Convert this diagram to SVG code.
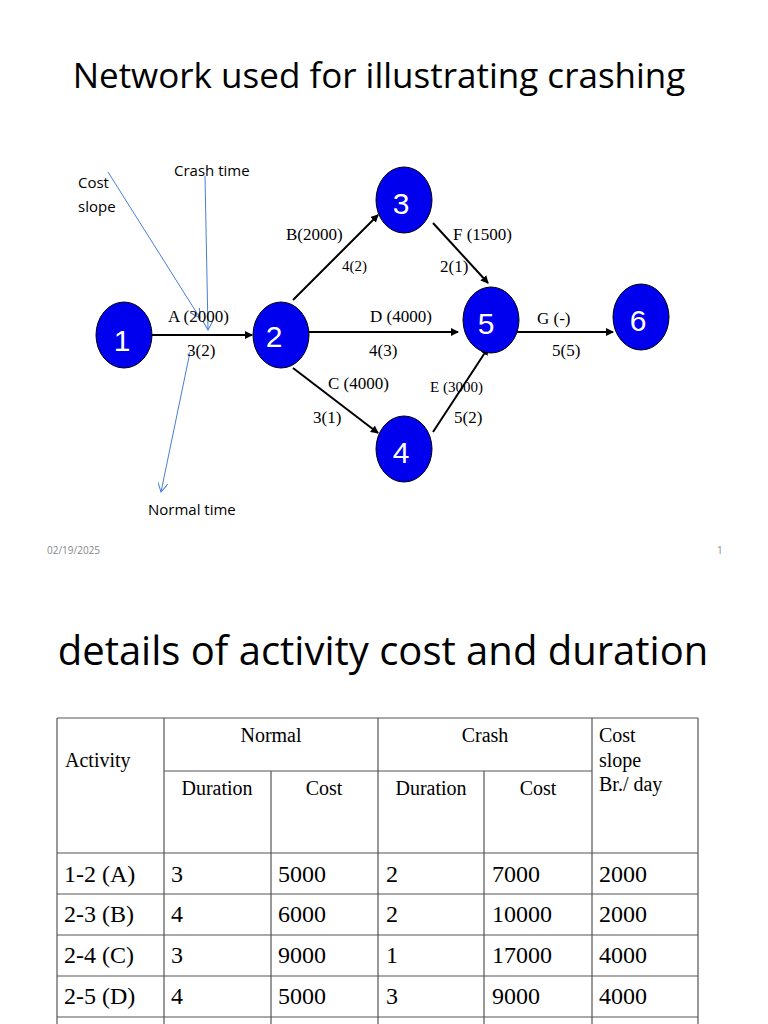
<svg xmlns="http://www.w3.org/2000/svg" width="768" height="1024" viewBox="0 0 768 1024">
<style>
.t{font-family:"Liberation Serif",serif;fill:#000}
.s{font-family:"Open Sans","Liberation Sans",sans-serif;fill:#000}
.n ellipse{fill:#0000ee;stroke:#000;stroke-width:1}
.n text{font-family:"Liberation Sans",sans-serif;font-size:30px;fill:#fff;text-anchor:middle}
.e{stroke:#000;stroke-width:2;marker-end:url(#a)}
.b{stroke:#4a7ed6;stroke-width:1;marker-end:url(#b)}
.g line{stroke:#555;stroke-width:1.2}
</style>
<defs>
<marker id="a" markerWidth="8" markerHeight="8" refX="7" refY="4" orient="auto" markerUnits="userSpaceOnUse"><path d="M0,0L8,4L0,8z" fill="#000"/></marker>
<marker id="b" markerWidth="10" markerHeight="10" refX="9" refY="5" orient="auto" markerUnits="userSpaceOnUse"><path d="M0,0L9,5L0,10" fill="none" stroke="#4a7ed6"/></marker>
</defs>
<rect width="768" height="1024" fill="#fff"/>
<text class="s" x="379" y="88" font-size="35" text-anchor="middle">Network used for illustrating crashing</text>
<g id="connectors">
<line class="e" x1="152" y1="335" x2="252" y2="335"/>
<line class="e" x1="293" y1="300" x2="378" y2="215"/>
<line class="e" x1="309" y1="332" x2="458" y2="332"/>
<line class="e" x1="293" y1="368" x2="378" y2="433"/>
<line class="e" x1="433" y1="223" x2="488" y2="283"/>
<line class="e" x1="433" y1="432" x2="488" y2="348"/>
<line class="e" x1="516" y1="332" x2="613" y2="332"/>
<line class="b" x1="108" y1="172" x2="200" y2="318"/>
<line class="b" x1="205" y1="176" x2="208" y2="330"/>
<line class="b" x1="190" y1="352" x2="161" y2="492"/>
</g>
<g id="n1" class="n"><ellipse cx="124" cy="335" rx="28" ry="33"/><text x="122" y="351">1</text></g>
<g id="n2" class="n"><ellipse cx="281" cy="335" rx="28" ry="33"/><text x="274" y="347">2</text></g>
<g id="n3" class="n"><ellipse cx="404" cy="200" rx="28" ry="33"/><text x="401" y="214">3</text></g>
<g id="n5" class="n"><ellipse cx="491" cy="320" rx="28" ry="33"/><text x="486" y="334">5</text></g>
<g id="n6" class="n"><ellipse cx="641" cy="317" rx="28" ry="33"/><text x="638" y="331">6</text></g>
<g id="n4" class="n"><ellipse cx="404" cy="449" rx="28" ry="33"/><text x="401" y="463">4</text></g>
<g id="labels" class="t" font-size="17">
<text x="168" y="322">A (2000)</text><text x="187" y="356">3(2)</text>
<text x="286" y="240">B(2000)</text><text x="342" y="271" font-size="15">4(2)</text>
<text x="370" y="322">D (4000)</text><text x="369" y="356">4(3)</text>
<text x="328" y="389">C (4000)</text><text x="313" y="423">3(1)</text>
<text x="453" y="240">F (1500)</text><text x="440" y="272">2(1)</text>
<text x="430" y="392" font-size="15">E (3000)</text><text x="454" y="423">5(2)</text>
<text x="537" y="324">G (-)</text><text x="552" y="356">5(5)</text>
</g>
<g class="s" font-size="15">
<text x="78" y="188">Cost</text><text x="78" y="212">slope</text>
<text x="174" y="176">Crash time</text>
<text x="148" y="515">Normal time</text>
<text x="47" y="554" font-size="10" fill="#888">02/19/2025</text>
<text x="717" y="554" font-size="10" fill="#888">1</text>
</g>
<text class="s" x="383" y="665" font-size="40" text-anchor="middle">details of activity cost and duration</text>
<g id="table">
<g class="g">
<line x1="57" y1="718" x2="698" y2="718"/>
<line x1="164" y1="771" x2="592" y2="771"/>
<line x1="57" y1="853" x2="698" y2="853"/>
<line x1="57" y1="894" x2="698" y2="894"/>
<line x1="57" y1="935" x2="698" y2="935"/>
<line x1="57" y1="976" x2="698" y2="976"/>
<line x1="57" y1="1017" x2="698" y2="1017"/>
<line x1="57" y1="718" x2="57" y2="1024"/>
<line x1="164" y1="718" x2="164" y2="1024"/>
<line x1="271" y1="771" x2="271" y2="1024"/>
<line x1="378" y1="718" x2="378" y2="1024"/>
<line x1="484" y1="771" x2="484" y2="1024"/>
<line x1="592" y1="718" x2="592" y2="1024"/>
<line x1="698" y1="718" x2="698" y2="1024"/>
</g>
<g class="t" font-size="20">
<text x="65" y="767">Activity</text>
<text x="271" y="742" text-anchor="middle">Normal</text>
<text x="485" y="742" text-anchor="middle">Crash</text>
<text x="599" y="742">Cost</text><text x="599" y="767">slope</text><text x="599" y="791">Br./ day</text>
<text x="217" y="795" text-anchor="middle">Duration</text>
<text x="324" y="795" text-anchor="middle">Cost</text>
<text x="431" y="795" text-anchor="middle">Duration</text>
<text x="538" y="795" text-anchor="middle">Cost</text>
</g>
<g class="t" font-size="24">
<text x="64" y="882">1-2 (A)</text><text x="171" y="882">3</text><text x="278" y="882">5000</text><text x="386" y="882">2</text><text x="492" y="882">7000</text><text x="599" y="882">2000</text>
<text x="64" y="922">2-3 (B)</text><text x="171" y="922">4</text><text x="278" y="922">6000</text><text x="386" y="922">2</text><text x="492" y="922">10000</text><text x="599" y="922">2000</text>
<text x="64" y="963">2-4 (C)</text><text x="171" y="963">3</text><text x="278" y="963">9000</text><text x="386" y="963">1</text><text x="492" y="963">17000</text><text x="599" y="963">4000</text>
<text x="64" y="1004">2-5 (D)</text><text x="171" y="1004">4</text><text x="278" y="1004">5000</text><text x="386" y="1004">3</text><text x="492" y="1004">9000</text><text x="599" y="1004">4000</text>
</g>
</g>
</svg>
